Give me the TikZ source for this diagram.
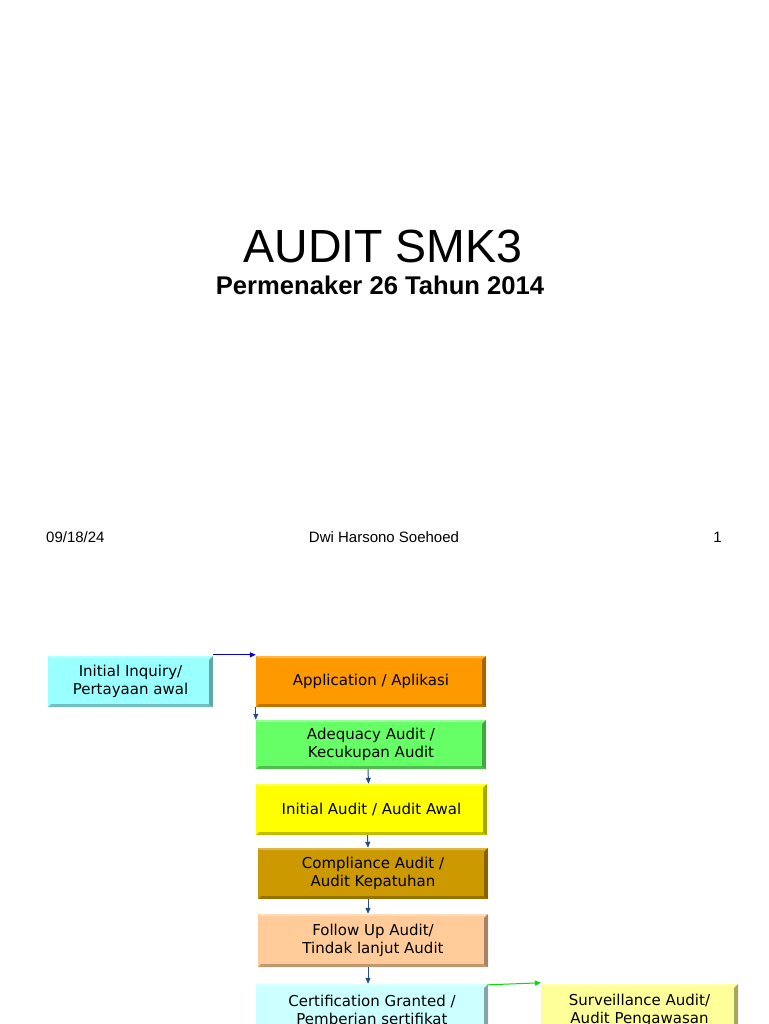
\documentclass[tikz,border=0pt]{standalone}
\usepackage{fontspec}
\setmainfont{Liberation Sans}
\newfontfamily\boxfont{DejaVu Sans}
\usepackage{tikz}
\usetikzlibrary{arrows.meta}
\definecolor{inquirycyan}{HTML}{99FFFF}
\definecolor{apporange}{HTML}{FF9900}
\definecolor{adequacygreen}{HTML}{66FF66}
\definecolor{initialyellow}{HTML}{FFFF00}
\definecolor{compliancegold}{HTML}{CC9900}
\definecolor{followpeach}{HTML}{FFCC99}
\definecolor{certcyan}{HTML}{CCFFFF}
\definecolor{survyellow}{HTML}{FFFF99}
\definecolor{flowblue}{HTML}{0000CC}
\definecolor{flownavy}{HTML}{1F4E8C}
\definecolor{flowgreen}{HTML}{00DD00}
\tikzstyle{stage}=[minimum width=230pt,minimum height=51pt,inner sep=2pt,align=center,
  font=\boxfont\fontsize{15pt}{18pt}\selectfont,
  path picture={
    \fill[white,opacity=.3] (path picture bounding box.north west) -- (path picture bounding box.north east)
      -- ([shift={(-4pt,-2pt)}]path picture bounding box.north east) -- ([shift={(2pt,-2pt)}]path picture bounding box.north west) -- cycle;
    \fill[black,opacity=.35] (path picture bounding box.north east) -- ([shift={(-4pt,-4pt)}]path picture bounding box.north east)
      -- ([shift={(-4pt,3pt)}]path picture bounding box.south east) -- (path picture bounding box.south east) -- cycle;
    \fill[black,opacity=.25] (path picture bounding box.south west) -- ([shift={(3pt,3pt)}]path picture bounding box.south west)
      -- ([shift={(-4pt,3pt)}]path picture bounding box.south east) -- (path picture bounding box.south east) -- cycle;
  }]
\tikzstyle{flow}=[-{Triangle[length=6pt,width=5pt]},line width=1pt]

\begin{document}
\begin{tikzpicture}[x=1pt,y=-1pt]
        \useasboundingbox (0,0) rectangle (768,1024);
        \clip (0,0) rectangle (768,1024);
        % title slide
        \node[anchor=base,inner sep=0pt,font=\fontsize{46.5pt}{50pt}\selectfont] (title) at (383,262) {AUDIT SMK3};
        \node[anchor=base,inner sep=0pt,font=\bfseries\fontsize{25.6pt}{28pt}\selectfont] (subtitle) at (380,294) {Permenaker 26 Tahun 2014};
        \node[anchor=base west,inner sep=0pt,font=\fontsize{15pt}{18pt}\selectfont] (date) at (46,542) {09/18/24};
        \node[anchor=base,inner sep=0pt,font=\fontsize{15pt}{18pt}\selectfont] (author) at (384,542) {Dwi Harsono Soehoed};
        \node[anchor=base east,inner sep=0pt,font=\fontsize{15pt}{18pt}\selectfont] (page) at (722,542) {1};
        % audit flow
        \node[stage,fill=inquirycyan,minimum width=165pt] (inquiry) at (130.5,681.5) {Initial Inquiry/\\Pertayaan awal};
        \node[stage,fill=apporange] (application) at (371,681.5) {Application / Aplikasi};
        \node[stage,fill=adequacygreen,minimum height=49pt] (adequacy) at (371,744.5) {Adequacy Audit /\\Kecukupan Audit};
        \node[stage,fill=initialyellow,minimum width=231pt] (initial) at (371.5,809.5) {Initial Audit / Audit Awal};
        \node[stage,fill=compliancegold] (compliance) at (373,873.5) {Compliance Audit /\\Audit Kepatuhan};
        \node[stage,fill=followpeach,minimum height=53pt] (followup) at (373,940.5) {Follow Up Audit/\\Tindak lanjut Audit};
        \node[stage,fill=certcyan,minimum width=232pt,minimum height=52pt] (certified) at (372,1010) {Certification Granted /\\Pemberian sertifikat};
        \node[stage,fill=survyellow,minimum width=197pt,minimum height=52pt] (surveillance) at (639.5,1010) {Surveillance Audit/\\Audit Pengawasan};

        \draw[flow,flowblue] ([yshift=1pt]inquiry.north east) -- ([yshift=1pt]application.north west);
        \draw[flow,flownavy] (application.south west) -- (adequacy.north west);
        \draw[flow,flownavy] ([xshift=-3pt]adequacy.south) -- ([xshift=-3pt]initial.north);
        \draw[flow,flownavy] ([xshift=-4pt]initial.south) -- ([xshift=-5pt]compliance.north);
        \draw[flow,flownavy] ([xshift=-5pt]compliance.south) -- ([xshift=-5pt]followup.north);
        \draw[flow,flownavy] ([xshift=-5pt]followup.south) -- ([xshift=-4pt]certified.north);
        \draw[flow,flowgreen] ([yshift=-1pt]certified.north east) -- ([yshift=1pt]surveillance.north west);
\end{tikzpicture}
\end{document}
